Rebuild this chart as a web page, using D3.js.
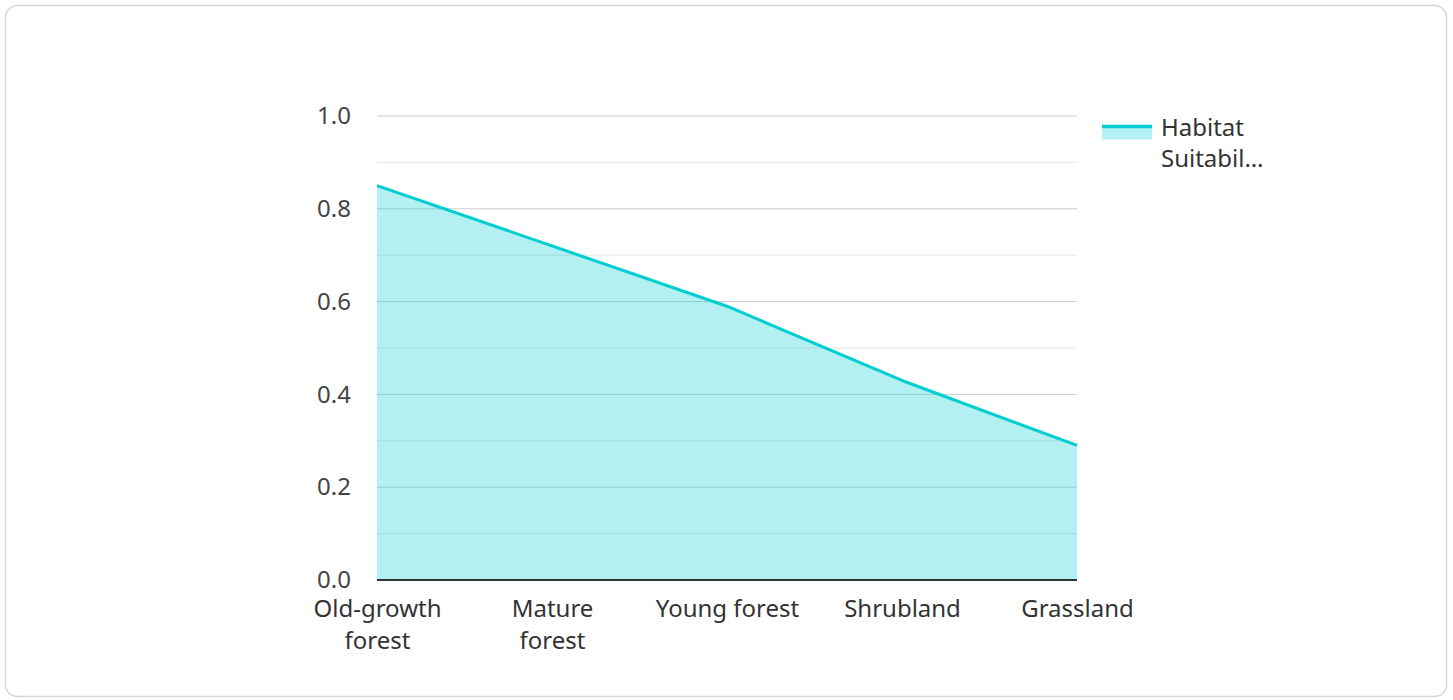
<!DOCTYPE html>
<html>
<head>
<meta charset="utf-8">
<script src="https://cdn.jsdelivr.net/npm/d3@7"></script>
<style>
  html, body { margin: 0; padding: 0; background: #fff; }
  svg { display: block; font-family: "Noto Sans", "Open Sans", sans-serif; }
</style>
</head>
<body>
<svg id="chart" width="1453" height="700"></svg>
<script>
// Habitat suitability along a forest-to-grassland gradient
const categories = ["Old-growth forest", "Mature forest", "Young forest", "Shrubland", "Grassland"];
const suitability = [0.85, 0.72, 0.59, 0.43, 0.29];
const seriesName = "Habitat Suitability";
const yTicks = [0, 0.2, 0.4, 0.6, 0.8, 1.0];
const yMinorTicks = [0.1, 0.3, 0.5, 0.7, 0.9];

const svg = d3.select("#chart");
const W = 1453, H = 700;
const margin = { left: 377, right: 376, top: 116, bottom: 120 };
const color = "#00CED1";
const fontSize = 24;

// card frame
svg.append("rect")
  .attr("x", 5.5).attr("y", 5.5)
  .attr("width", W - 12).attr("height", H - 9)
  .attr("rx", 12).attr("ry", 12)
  .attr("fill", "#fff").attr("stroke", "#d6d6d6").attr("stroke-width", 1.5);

const x = d3.scalePoint().domain(categories).range([margin.left, W - margin.right]);
const y = d3.scaleLinear().domain([0, 1]).range([H - margin.bottom, margin.top]);

// gridlines
svg.append("g").selectAll("line.minor").data(yMinorTicks).join("line")
  .attr("x1", margin.left).attr("x2", W - margin.right)
  .attr("y1", d => y(d)).attr("y2", d => y(d))
  .attr("stroke", "#e6e6e6").attr("stroke-width", 1);
svg.append("g").selectAll("line.major").data(yTicks.filter(t => t > 0)).join("line")
  .attr("x1", margin.left).attr("x2", W - margin.right)
  .attr("y1", d => y(d)).attr("y2", d => y(d))
  .attr("stroke", "#cccccc").attr("stroke-width", 1);

const data = categories.map((c, i) => ({ c, v: suitability[i] }));

// area fill
svg.append("path").datum(data)
  .attr("d", d3.area().x(d => x(d.c)).y0(y(0)).y1(d => y(d.v)))
  .attr("fill", color).attr("fill-opacity", 0.3);

// line
svg.append("path").datum(data)
  .attr("d", d3.line().x(d => x(d.c)).y(d => y(d.v)))
  .attr("fill", "none").attr("stroke", color).attr("stroke-width", 3)
  .attr("stroke-linejoin", "round");

// y axis labels
const yAxis = svg.append("g").attr("transform", `translate(${margin.left},0)`)
  .call(d3.axisLeft(y).tickValues(yTicks).tickFormat(d3.format(".1f")).tickSize(0).tickPadding(26));
yAxis.select(".domain").remove();
yAxis.attr("font-size", fontSize).attr("font-family", "'Noto Sans', sans-serif");
yAxis.selectAll("text").attr("fill", "#444");

// x axis
const xAxis = svg.append("g").attr("transform", `translate(0,${y(0)})`)
  .call(d3.axisBottom(x).tickSize(0).tickPadding(0));
xAxis.attr("font-size", fontSize).attr("font-family", "'Noto Sans', sans-serif");
xAxis.select(".domain").attr("stroke", "#333").attr("stroke-width", 2)
  .attr("d", `M${margin.left},0H${W - margin.right}`);
xAxis.selectAll(".tick text").each(function(d) {
  const t = d3.select(this);
  t.text(null).attr("fill", "#333").attr("y", 0).attr("dy", null);
  const words = d.split(" ");
  const lines = (d === "Young forest") ? [d] : (words.length > 1 ? [words.slice(0, -1).join(" "), words[words.length - 1]] : [d]);
  lines.forEach((ln, i) => {
    t.append("tspan").attr("x", 0).attr("y", 37 + i * 32).text(ln);
  });
});

// legend
const lg = svg.append("g").attr("transform", "translate(1102,125)");
lg.append("rect").attr("x", 0).attr("y", 0).attr("width", 50).attr("height", 14.5)
  .attr("fill", color).attr("fill-opacity", 0.3);
lg.append("line").attr("x1", 0).attr("x2", 50).attr("y1", 1.5).attr("y2", 1.5)
  .attr("stroke", color).attr("stroke-width", 3.5);
const lt = lg.append("text").attr("font-size", fontSize).attr("fill", "#333")
  .attr("font-family", "'Noto Sans', sans-serif");
lt.append("tspan").attr("x", 59).attr("y", 11).text("Habitat");
lt.append("tspan").attr("x", 59).attr("y", 42).text("Suitabil…");
lt.append("title").text(seriesName);
</script>
</body>
</html>
